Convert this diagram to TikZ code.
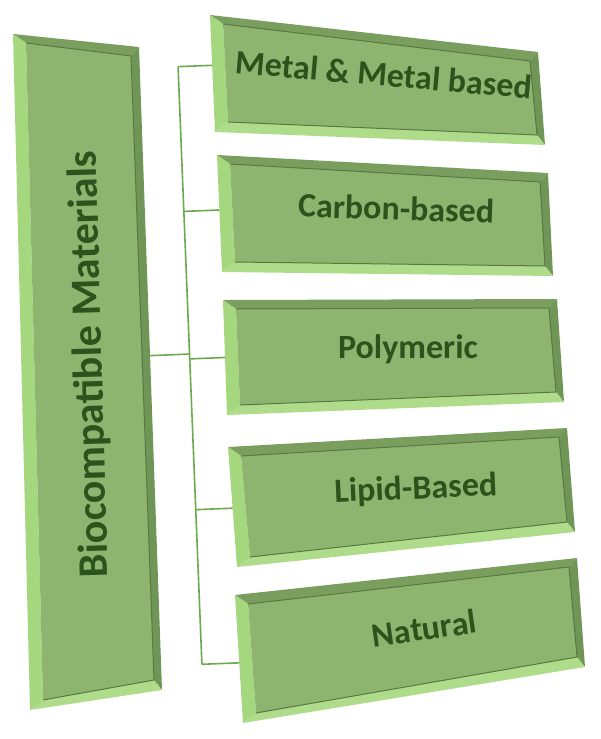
\documentclass[tikz,border=0pt]{standalone}
\usepackage{fontspec}
\setmainfont{Carlito}
\usetikzlibrary{calc}

\definecolor{Cbmface}{HTML}{8DB570}
\definecolor{Cbmlight}{HTML}{A5D87E}
\definecolor{Cbmshade}{HTML}{6F9656}
\definecolor{Cbmtop}{HTML}{7A9E5E}
\definecolor{Cbmedge}{HTML}{58783F}
\definecolor{Cbmtext}{HTML}{2D531D}
\definecolor{Cbmline}{HTML}{6BAA4C}

\tikzset{
	bmlabel/.style={text=Cbmtext,inner sep=0pt,text height=0.7em,text depth=0.2em,
		font=\bfseries\fontsize{17}{18}\selectfont},
	bmlink/.style={Cbmline,line width=0.8pt}
}

\begin{document}
\begin{tikzpicture}[x=0.5pt,y=-0.5pt]
	\useasboundingbox (0,0) rectangle (600,739);
	% bevelled boxes: corners a,b,c,d clockwise from top left
	\foreach \n/\ax/\ay/\bx/\by/\cx/\cy/\dx/\dy/\f in {
			bm/13/34/139/47/162/690/30/710/0.48,
			mt/210/15/538/52/545/145/215/132/0.43,
			cb/217/155/548/173/553/276/222/272/0.47,
			pl/223/300/557/299/564/402/227/415/0.5,
			lp/228/447/567/428/575/532/237/567/0.51,
			nt/235/595/577/558/585/667/243/723/0.53}{
			\coordinate (\n-a) at (\ax,\ay);
			\coordinate (\n-b) at (\bx,\by);
			\coordinate (\n-c) at (\cx,\cy);
			\coordinate (\n-d) at (\dx,\dy);
			\coordinate (\n-ia) at ($(\n-a)+(13,9)$);
			\coordinate (\n-ib) at ($(\n-b)+(-8,9)$);
			\coordinate (\n-ic) at ($(\n-c)+(-8,-10)$);
			\coordinate (\n-id) at ($(\n-d)+(13,-10)$);
			\coordinate (\n-w) at ($(\n-a)!\f!(\n-d)$);
			\coordinate (\n-e) at ($(\n-b)!\f!(\n-c)$);
			\fill[Cbmtop] (\n-a)--(\n-b)--(\n-ib)--(\n-ia)--cycle;
			\fill[Cbmshade] (\n-b)--(\n-c)--(\n-ic)--(\n-ib)--cycle;
			\fill[Cbmlight!90!white] (\n-c)--(\n-d)--(\n-id)--(\n-ic)--cycle;
			\fill[Cbmlight] (\n-d)--(\n-a)--(\n-ia)--(\n-id)--cycle;
			\fill[Cbmface] (\n-ia)--(\n-ib)--(\n-ic)--(\n-id)--cycle;
			\draw[Cbmedge,line width=0.5pt] (\n-ia)--(\n-ib)--(\n-ic)--(\n-id);}

	\node[bmlabel,anchor=base,text height=,text depth=,rotate=91.6,
		font=\bfseries\fontsize{21}{22}\selectfont] (bmtxt) at (102,364) {Biocompatible Materials};
	\node[bmlabel,rotate=-4.9] (mttxt) at (383,81) {Metal \& Metal based};
	\node[bmlabel,rotate=-1.8] (cbtxt) at (396,215) {Carbon-based};
	\node[bmlabel] (pltxt) at (408,353) {Polymeric};
	\node[bmlabel,rotate=2.5] (lptxt) at (416,494) {Lipid-Based};
	\node[bmlabel,rotate=8] (nttxt) at (425,635) {Natural};

	% tree connectors
	\coordinate (tr-top) at (178,65);
	\coordinate (tr-bot) at (202,666);
	\foreach \n in {bm,mt,cb,pl,lp,nt}
		\coordinate (j-\n) at ($(tr-top)!(\n-w)!(tr-bot)$);
	\coordinate (j-bm) at ($(tr-top)!(bm-e)!(tr-bot)$);
	\draw[bmlink] (j-mt)--(j-nt);
	\foreach \n in {mt,cb,pl,lp,nt}
		\draw[bmlink] (j-\n)--(\n-w);
	\draw[bmlink] (bm-e)--(j-bm);
\end{tikzpicture}
\end{document}
